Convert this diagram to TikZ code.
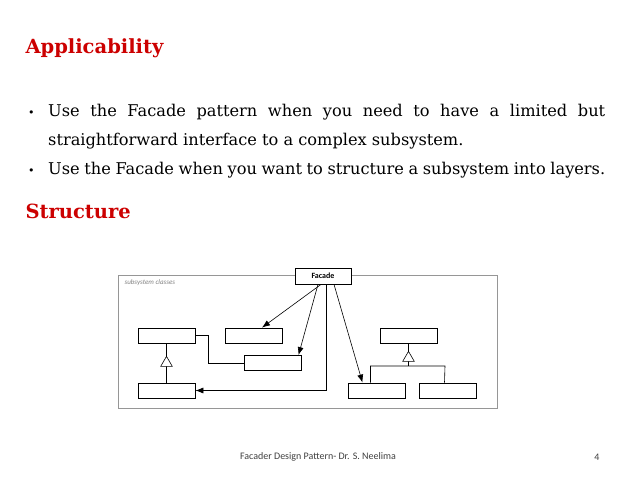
\documentclass[tikz,border=0pt]{standalone}
\usepackage{fontspec}
\setsansfont{Carlito}
\setmainfont{DejaVu Serif}
\usetikzlibrary{arrows.meta,shapes.geometric}
\definecolor{titlered}{RGB}{204,0,0}
\definecolor{frame}{RGB}{150,150,150}
\begin{document}
\begin{tikzpicture}[x=1pt,y=-1pt,
  cls/.style={draw,line width=0.8pt,minimum width=57pt,minimum height=15pt,inner sep=0pt},
  ttl/.style={anchor=west,text=titlered,font=\fontsize{19.5}{24}\selectfont\bfseries},
  body/.style={font=\fontsize{16.2}{29}\selectfont},
  assoc/.style={line width=0.6pt,-{Latex[length=8pt,width=6pt]}},
  trishape/.style={draw,isosceles triangle,shape border rotate=90,isosceles triangle apex angle=60,minimum height=10pt,inner sep=0pt,line width=0.6pt,fill=white},
  tri/.style={line width=0.6pt}]
\useasboundingbox (0,0) rectangle (638,478);
\node[ttl] (t1) at (22,48) {Applicability};
\node[body,anchor=north west,inner sep=0pt] (b1) at (28,104) {\parbox[t]{577pt}{\fontsize{16.2}{29}\selectfont
  \makebox[20pt][l]{\fontsize{11}{11}\selectfont•}Use the Facade pattern when you need to have a limited but\linebreak
  \hspace*{20pt}straightforward interface to a complex subsystem.\\
  \makebox[20pt][l]{\fontsize{11}{11}\selectfont•}Use the Facade when you want to structure a subsystem into layers.}};
\node[ttl] (t2) at (22,211) {Structure};
% frame
\node[draw=frame,line width=1.2pt,minimum width=379pt,minimum height=133pt,inner sep=0pt,anchor=north west] (frm) at (118,275) {};
\node[anchor=west,font=\sffamily\itshape\fontsize{7}{8}\selectfont,text=gray] (lbl) at (121,283) {subsystem classes};
\node[cls,fill=white,minimum width=56pt,minimum height=16pt,font=\sffamily\bfseries\fontsize{8}{9}\selectfont] (fac) at (323,276) {Facade};
\node[cls] (A) at (166.5,335.5) {};
\node[cls] (B) at (254,335.5) {};
\node[cls] (C) at (272.5,363) {};
\node[cls] (D) at (166.5,390.5) {};
\node[cls] (E) at (408.5,335.5) {};
\node[cls] (F) at (376.5,390.5) {};
\node[cls] (G) at (447.5,390.5) {};
% associations
\draw[assoc] ([xshift=-2pt]fac.south) -- ([xshift=8pt]B.north);
\draw[assoc] ([xshift=-5pt]fac.south) -- ([xshift=26pt]C.north);
\draw[assoc] ([xshift=3pt]fac.south) |- (D.east);
\draw[assoc] ([xshift=11pt]fac.south) -- ([xshift=-14pt]F.north);
\draw[line width=0.6pt] (A.east) -| (208,363) -- (C.west);
% inheritance left
\draw[tri] (A.south) -- (D.north);
\node[trishape] (T1) at (166.5,363) {};
% inheritance right
\draw[tri] (E.south) -- (408.5,366);
\draw[tri] ([xshift=-6pt]F.north) |- (445,366) -- ([xshift=-3pt]G.north);
\node[trishape] (T2) at (408.5,358) {};
% footer
\node[font=\sffamily\fontsize{10}{12}\selectfont,text=darkgray] (ft) at (318,457) {Facader Design Pattern- Dr. S. Neelima};
\node[font=\sffamily\fontsize{10}{12}\selectfont,text=darkgray] (pg) at (597,457) {4};
\end{tikzpicture}
\end{document}
